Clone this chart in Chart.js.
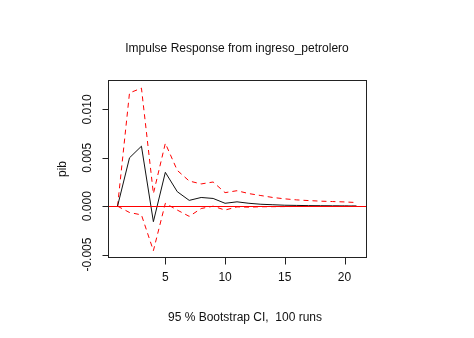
<!DOCTYPE html>
<html>
<head>
<meta charset="utf-8">
<script src="https://cdn.jsdelivr.net/npm/chart.js@4/dist/chart.umd.min.js"></script>
<style>
  html, body { margin: 0; padding: 0; background: #fff; }
  canvas { display: block; }
</style>
</head>
<body>
<canvas id="irf" width="474" height="338"></canvas>
<script>
// horizon steps and impulse response of pib to ingreso_petrolero
var steps = [1, 2, 3, 4, 5, 6, 7, 8, 9, 10, 11, 12, 13, 14, 15, 16, 17, 18, 19, 20, 21];
var irf = [0, 0.0050, 0.0062, -0.0016, 0.0035, 0.0015, 0.0006, 0.0009, 0.0008, 0.0003, 0.00045,
  0.0003, 0.0002, 0.00015, 0.0001, 0.00008, 0.00006, 0.00005, 0.00004, 0.00003, 0.00002];
var upper = [0, 0.0117, 0.0122, 0.0013, 0.0065, 0.0037, 0.0026, 0.0023, 0.0025, 0.0014, 0.0016,
  0.0013, 0.0011, 0.0009, 0.00076, 0.00065, 0.00058, 0.00052, 0.00048, 0.00044, 0.00038];
var lower = [0, -0.00065, -0.0009, -0.0046, 0.0003, -0.0004, -0.00105, -0.00024, 0, -0.0004, -0.00007,
  -0.0001, -0.00006, -0.00005, -0.00004, -0.00003, -0.00003, -0.00002, -0.00002, -0.00001, -0.00001];

var xTicks = [5, 10, 15, 20];
var yTicks = [-0.005, 0, 0.005, 0.010];
var yTickLabels = ['-0.005', '0.000', '0.005', '0.010'];

var mainTitle = 'Impulse Response from ingreso_petrolero';
var yTitle = 'pib';
var subTitle = '95 % Bootstrap CI,  100 runs';

var font = '"Liberation Sans", Arial, Helvetica, sans-serif';

function pts(vals) {
  return steps.map(function (s, i) { return { x: s, y: vals[i] }; });
}

// R-like frame, axes, zero line and titles
var basePlot = {
  id: 'basePlot',
  afterDatasetsDraw: function (chart) {
    var ctx = chart.ctx, a = chart.chartArea;
    var xs = chart.scales.x, ys = chart.scales.y;
    ctx.save();

    // zero line
    var y0 = Math.round(ys.getPixelForValue(0)) + 0.5;
    ctx.strokeStyle = 'red';
    ctx.lineWidth = 1;
    ctx.beginPath();
    ctx.moveTo(a.left, y0);
    ctx.lineTo(a.right, y0);
    ctx.stroke();

    // box
    ctx.strokeStyle = '#222';
    ctx.strokeRect(Math.round(a.left) + 0.5, Math.round(a.top) + 0.5,
      Math.round(a.right - a.left), Math.round(a.bottom - a.top));

    // x axis
    var by = Math.round(a.bottom) + 0.5;
    ctx.beginPath();
    xTicks.forEach(function (t) {
      var px = Math.round(xs.getPixelForValue(t)) + 0.5;
      ctx.moveTo(px, by);
      ctx.lineTo(px, by + 7);
    });
    ctx.stroke();
    ctx.fillStyle = '#111';
    ctx.font = '12px ' + font;
    ctx.textAlign = 'center';
    ctx.textBaseline = 'middle';
    xTicks.forEach(function (t) {
      ctx.fillText(String(t), xs.getPixelForValue(t), 278);
    });

    // y axis
    var lx = Math.round(a.left) + 0.5;
    ctx.beginPath();
    yTicks.forEach(function (t) {
      var py = Math.round(ys.getPixelForValue(t)) + 0.5;
      ctx.moveTo(lx, py);
      ctx.lineTo(lx - 6, py);
    });
    ctx.stroke();
    yTicks.forEach(function (t, i) {
      ctx.save();
      ctx.translate(88, ys.getPixelForValue(t));
      ctx.rotate(-Math.PI / 2);
      ctx.fillText(yTickLabels[i], 0, 0);
      ctx.restore();
    });

    // titles
    ctx.fillText(mainTitle, 237, 49);
    ctx.fillText(subTitle, 245, 318);
    ctx.save();
    ctx.translate(63, 169);
    ctx.rotate(-Math.PI / 2);
    ctx.fillText(yTitle, 0, 0);
    ctx.restore();

    ctx.restore();
  }
};

new Chart(document.getElementById('irf'), {
  type: 'line',
  data: {
    datasets: [
      { data: pts(irf), borderColor: '#111', borderWidth: 1, pointRadius: 0, tension: 0 },
      { data: pts(upper), borderColor: 'red', borderWidth: 1, borderDash: [5, 4], pointRadius: 0, tension: 0 },
      { data: pts(lower), borderColor: 'red', borderWidth: 1, borderDash: [5, 4], pointRadius: 0, tension: 0 }
    ]
  },
  options: {
    responsive: false,
    animation: false,
    layout: { padding: { left: 108, top: 80, right: 108, bottom: 81 } },
    plugins: { legend: { display: false }, tooltip: { enabled: false }, title: { display: false } },
    scales: {
      x: { type: 'linear', min: 0.2, max: 21.8, display: false },
      y: { type: 'linear', min: -0.00525, max: 0.01304, display: false }
    }
  },
  plugins: [basePlot]
});
</script>
</body>
</html>
